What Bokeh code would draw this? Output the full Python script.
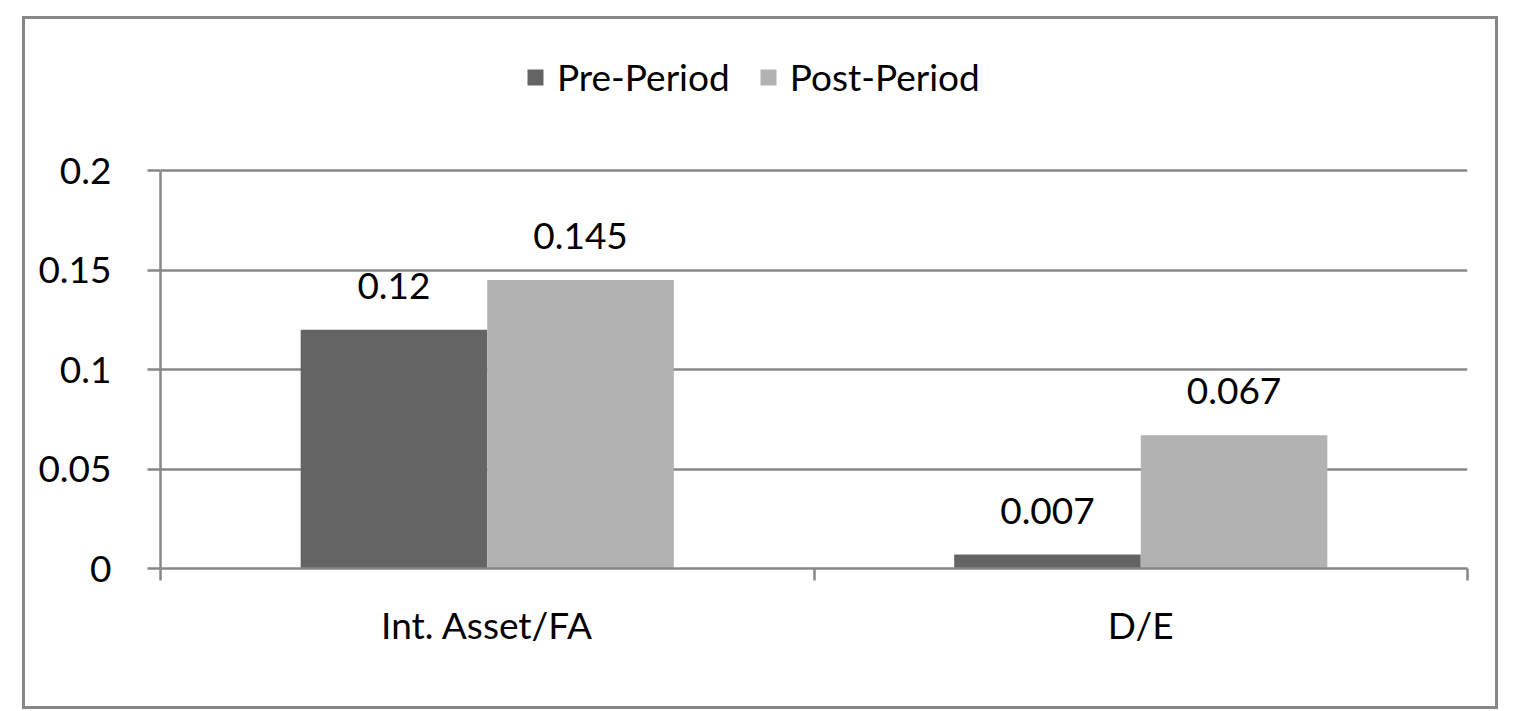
from bokeh.plotting import figure
from bokeh.layouts import column, row
from bokeh.models import ColumnDataSource, FixedTicker, LabelSet, Legend, LegendItem, Range1d, Spacer
from bokeh.core.properties import value
from bokeh.embed import file_html
from bokeh.resources import INLINE

categories = ["Int. Asset/FA", "D/E"]
series_names = ["Pre-Period", "Post-Period"]
pre_values = [0.12, 0.007]
post_values = [0.145, 0.067]
pre_labels = ["0.12", "0.007"]
post_labels = ["0.145", "0.067"]
y_ticks = [0, 0.05, 0.1, 0.15, 0.2]
y_tick_labels = ["0", "0.05", "0.1", "0.15", "0.2"]

FONT = "Lato"
FS = "37px"
AXIS_COL = "#878787"
PRE_COL = "#646464"
POST_COL = "#B2B2B2"

bar_w = 0.2855
centers = [i + 0.5 for i in range(len(categories))]
pre_x = [c - bar_w / 2 for c in centers]
post_x = [c + bar_w / 2 for c in centers]

src_pre = ColumnDataSource(dict(x=pre_x, top=pre_values, lab=pre_labels))
src_post = ColumnDataSource(dict(x=post_x, top=post_values, lab=post_labels))

# frame extends above the top tick so the legend sits inside the frame
y_top = max(y_ticks)
y_end = y_top * (568 - 40) / (568 - 170)

p = figure(width=1476, height=693, output_backend="svg", toolbar_location=None,
           x_range=Range1d(0, len(categories)), y_range=Range1d(0, y_end),
           min_border_left=135, min_border_right=34, min_border_top=21, min_border_bottom=144)
p.styles = {"border": "3px solid " + AXIS_COL}
p.outline_line_color = None
p.background_fill_color = "white"
p.border_fill_color = "white"

r_pre = p.vbar(x="x", top="top", width=bar_w, bottom=0, source=src_pre,
               fill_color=PRE_COL, line_color=None)
r_post = p.vbar(x="x", top="top", width=bar_w, bottom=0, source=src_post,
                fill_color=POST_COL, line_color=None)

for src in (src_pre, src_post):
    p.add_layout(LabelSet(x="x", y="top", text="lab", source=src, text_align="center",
                          text_baseline="alphabetic", y_offset=31, text_font=value(FONT),
                          text_font_size=FS, text_color="black"))

# y axis
p.yaxis.ticker = FixedTicker(ticks=y_ticks)
p.yaxis.bounds = (0, y_top)
p.yaxis.major_label_overrides = {t: l for t, l in zip(y_ticks, y_tick_labels)}
p.yaxis.axis_line_color = AXIS_COL
p.yaxis.axis_line_width = 2.5
p.yaxis.major_tick_line_color = AXIS_COL
p.yaxis.major_tick_line_width = 2.5
p.yaxis.major_tick_out = 13
p.yaxis.major_tick_in = 0
p.yaxis.minor_tick_line_color = None
p.yaxis.major_label_standoff = 36
p.yaxis.major_label_text_font = FONT
p.yaxis.major_label_text_font_size = FS
p.yaxis.major_label_text_color = "black"

# x axis
p.xaxis.ticker = FixedTicker(ticks=centers, minor_ticks=list(range(len(categories) + 1)))
p.xaxis.major_label_overrides = {c: n for c, n in zip(centers, categories)}
p.xaxis.axis_line_color = AXIS_COL
p.xaxis.axis_line_width = 2.5
p.xaxis.major_tick_line_color = None
p.xaxis.major_tick_out = 0
p.xaxis.major_tick_in = 0
p.xaxis.minor_tick_line_color = AXIS_COL
p.xaxis.minor_tick_line_width = 2.5
p.xaxis.minor_tick_out = 12
p.xaxis.minor_tick_in = 0
p.xaxis.major_label_standoff = 21
p.xaxis.major_label_text_font = FONT
p.xaxis.major_label_text_font_size = FS
p.xaxis.major_label_text_color = "black"

p.xgrid.grid_line_color = None
p.ygrid.ticker = FixedTicker(ticks=y_ticks)
p.ygrid.grid_line_color = AXIS_COL
p.ygrid.grid_line_width = 2.5

legend = Legend(items=[LegendItem(label=series_names[0], renderers=[r_pre]),
                       LegendItem(label=series_names[1], renderers=[r_post])],
                orientation="horizontal", location=(365, 469),
                padding=0, margin=0, spacing=28, label_standoff=12,
                glyph_width=20, glyph_height=20, label_text_font=FONT,
                label_text_font_size=FS, label_text_color="black",
                label_text_baseline="middle", border_line_color=None,
                background_fill_alpha=0)
p.add_layout(legend, "center")

layout = column(Spacer(width=10, height=16), row(Spacer(width=22, height=10), p))
open("out.html", "w").write(file_html(layout, INLINE))
